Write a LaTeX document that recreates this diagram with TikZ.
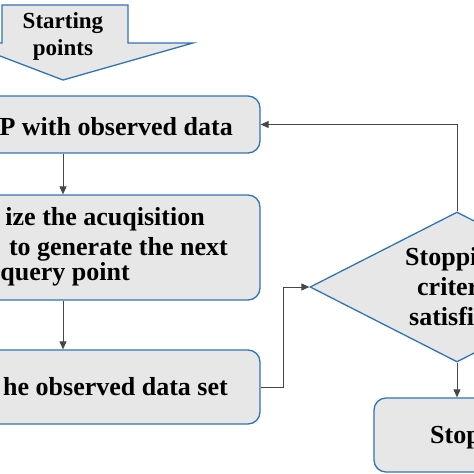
\documentclass[tikz,border=0pt]{standalone}
\usepackage{fontspec}
\setmainfont{Liberation Serif}
\usetikzlibrary{shapes.geometric,arrows.meta,positioning,calc}

\definecolor{boxfill}{RGB}{231,231,231}
\definecolor{boxline}{RGB}{46,117,182}
\definecolor{linkgray}{RGB}{70,70,70}

\begin{document}
\begin{tikzpicture}[
    x=1pt, y=-1pt,
    block/.style={
        rectangle,
        draw=boxline,
        fill=boxfill,
        line width=1.3pt,
        rounded corners=12pt,
        minimum width=394pt,
        inner sep=0pt
    },
    decision/.style={
        diamond,
        draw=boxline,
        fill=boxfill,
        line width=1.3pt,
        minimum width=294pt,
        minimum height=150pt,
        inner sep=0pt
    },
    lbl/.style={
        font=\fontsize{26}{30}\selectfont\bfseries,
        inner sep=0pt
    },
    line/.style={
        draw=linkgray,
        line width=0.9pt,
        -{Triangle[length=8pt,width=7pt]}
    }
]
    \useasboundingbox (0,0) rectangle (474,474);
    \clip (0,0) rectangle (474,474);

    % Starting points
    \draw [draw=boxline, fill=boxfill, line width=1.3pt]
        (2,5) -- (128,5) -- (128,43) -- (193,43) -- (63,80) coordinate (tip)
        -- (-34,43) -- (2,43) -- cycle;
    \node [lbl, font=\fontsize{23}{27}\selectfont\bfseries, align=center, anchor=north] (start) at (63,12) {Starting\\points};

    % Nodes
    \node [block, minimum height=57pt] (update) at (63,124.5) {};
    \node [block, minimum height=105pt] (optimize) at (63,247.5) {};
    \node [block, minimum height=74pt] (augment) at (63,387) {};
    \node [decision] (check) at (457,287) {};
    \node [block, minimum width=166pt, minimum height=74pt] (stop) at (457,435) {};

    % Texts
    \node [lbl, anchor=base east] (t1) at (233,135) {P with observed data};
    \node [lbl, anchor=base east] (t2) at (205,225) {ize the acuqisition};
    \node [lbl, anchor=base east] (t3) at (228,255) {to generate the next};
    \node [lbl, anchor=base east] (t4) at (130,280) {query point};
    \node [lbl, anchor=base east] (t5) at (228,395) {he observed data set};
    \node [lbl, anchor=base west] (t6) at (405,265) {Stoppi};
    \node [lbl, anchor=base west] (t7) at (417,295) {criter};
    \node [lbl, anchor=base west] (t8) at (409,325) {satisfi};
    \node [lbl, anchor=base west] (t9) at (430,443) {Stop};

    % Edges
    \path [line] (update) -- (optimize);
    \path [line] (optimize) -- (augment);
    \path [line] (augment.east) -- ++(23,0) |- (check.west);
    \path [line] (check.north) |- (update.east);
    \path [line] (check) -- (stop);

\end{tikzpicture}
\end{document}
